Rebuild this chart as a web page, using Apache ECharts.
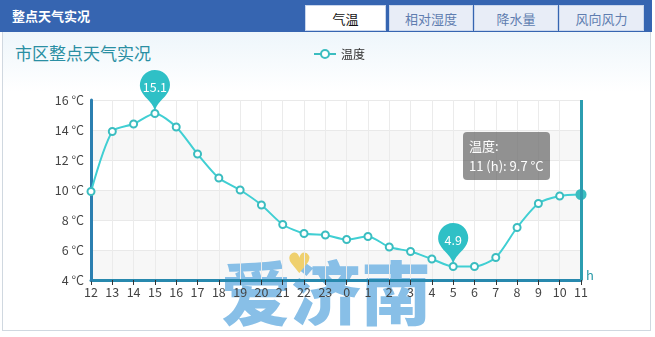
<!DOCTYPE html>
<html>
<head>
<meta charset="utf-8">
<script src="https://cdn.jsdelivr.net/npm/echarts@6/dist/echarts.min.js"></script>
<style>
html,body{margin:0;padding:0;width:655px;height:337px;overflow:hidden;background:#fff;font-family:"Microsoft YaHei","Noto Sans CJK SC",sans-serif;}
#hdr{position:absolute;left:0;top:0;width:652px;height:32px;background:#3665b1;}
#hdr .t{position:absolute;left:12px;top:0;line-height:32px;color:#fff;font-weight:bold;font-size:13px;}
.tab{position:absolute;top:5px;height:26px;line-height:26px;text-align:center;font-size:13px;background:#e8edf7;color:#5f7db0;box-sizing:border-box;border:1px solid #c9d6ec;}
.tab.on{background:#fff;color:#111;}
#panel{position:absolute;left:2px;top:32px;width:649px;height:299px;box-sizing:border-box;border:1px solid #d0d8e0;border-top:none;background:linear-gradient(#eef6fb 0px,#fff 60px);}
#title{position:absolute;left:15px;top:40px;font-size:17px;color:#2a8fa3;}
#chart{position:absolute;left:0;top:0;width:655px;height:337px;}
</style>
</head>
<body>
<div id="hdr"><div class="t">整点天气实况</div></div>
<div class="tab on" style="left:305px;width:81px;">气温</div>
<div class="tab" style="left:389px;width:84px;">相对湿度</div>
<div class="tab" style="left:474px;width:84px;">降水量</div>
<div class="tab" style="left:559px;width:85px;">风向风力</div>
<div id="panel"></div>
<div id="title">市区整点天气实况</div>
<div id="chart"></div>
<script>
const hours = ['12','13','14','15','16','17','18','19','20','21','22','23','0','1','2','3','4','5','6','7','8','9','10','11'];
const temps = [9.9,13.9,14.4,15.1,14.2,12.4,10.8,10.0,9.0,7.7,7.1,7.0,6.7,6.9,6.2,5.9,5.4,4.9,4.9,5.5,7.5,9.1,9.6,9.7];
const seriesName = '温度';

const chart = echarts.init(document.getElementById('chart'), null, {renderer:'canvas'});
const teal = '#3bbdc0';
chart.setOption({
  animation: false,
  backgroundColor: 'transparent',
  textStyle: {fontFamily: '"Microsoft YaHei","Noto Sans CJK SC",sans-serif'},
  legend: {
    data: [seriesName], left: 308, top: 43, itemWidth: 22, itemHeight: 10,
    textStyle: {color: '#333', fontSize: 12}
  },
  grid: {left: 91, right: 74, top: 100, bottom: 57},
  tooltip: {
    trigger: 'axis',
    alwaysShowContent: true,
    backgroundColor: 'rgba(90,90,90,0.65)',
    borderWidth: 0,
    borderRadius: 4,
    padding: [4, 6],
    textStyle: {color: '#fff', fontSize: 13},
    extraCssText: 'box-shadow:none;line-height:20px;',
    position: function(){ return [463, 132]; },
    formatter: function(p){ return p[0].seriesName + ':<br/>' + p[0].name + ' (h): ' + p[0].value + ' °C'; },
    axisPointer: {type: 'line', lineStyle: {color: '#2b9db0', width: 3, type: 'solid'}}
  },
  xAxis: {
    type: 'category', data: hours, boundaryGap: false, z: 0,
    name: 'h', nameGap: 5, nameTextStyle: {color: '#2a9aa8', fontSize: 13, verticalAlign: 'bottom', padding:[0,0,-2,0]},
    axisLine: {lineStyle: {color: '#2889ae', width: 3}},
    axisTick: {show: true, alignWithLabel: true, length: 5, lineStyle: {color: '#333', width: 1}},
    axisLabel: {color: '#444', fontSize: 12.5, margin: 6, interval: 0},
    splitLine: {show: true, lineStyle: {color: '#ebebeb'}}
  },
  yAxis: [{
    type: 'value', min: 4, max: 16, interval: 2, z: -20,
    axisLine: {show: false},
    axisTick: {show: false},
    axisLabel: {color: '#444', fontSize: 12.5, margin: 7, formatter: '{value} °C'},
    splitLine: {show: true, lineStyle: {color: '#e9e9e9'}},
    splitArea: {show: true, areaStyle: {color: ['rgba(246,246,246,0.9)', 'rgba(255,255,255,0)']}}
  }, {
    type: 'value', min: 4, max: 16, interval: 2, position: 'left', offset: 0, z: 2,
    axisLine: {show: true, onZero: false, lineStyle: {color: '#2b7fb0', width: 3}},
    axisTick: {show: false}, axisLabel: {show: false}, splitLine: {show: false}, splitArea: {show: false}
  }],
  graphic: [
    {type: 'text', z: -10, left: 221, top: 258, style: {text: '爱济南', fill: '#88bfe7', font: '900 70px "Noto Sans CJK SC", sans-serif'}},
    {type: 'text', z: -9, left: 287, top: 252, style: {text: '♥', fill: '#efd06e', font: 'bold 28px "DejaVu Sans", sans-serif'}}
  ],
  series: [{
    name: seriesName, type: 'line', data: temps, smooth: 0.25, yAxisIndex: 0,
    symbol: 'emptyCircle', symbolSize: 7, z: 5,
    lineStyle: {color: teal, width: 2},
    itemStyle: {color: teal, borderWidth: 2},
    emphasis: {scale: 1.3, itemStyle: {color: teal, borderColor: teal}},
    markPoint: {
      symbol: 'pin', symbolSize: 50,
      itemStyle: {color: '#2fc0c6'},
      label: {color: '#fff', fontSize: 12.5},
      data: [{type: 'max', name: '最高'}, {type: 'min', name: '最低'}]
    }
  }]
});
chart.dispatchAction({type: 'showTip', seriesIndex: 0, dataIndex: temps.length - 1});
</script>
</body>
</html>
